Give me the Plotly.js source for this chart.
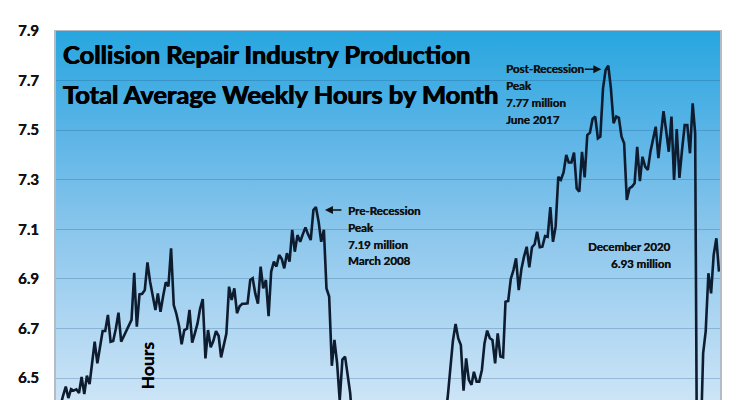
<!DOCTYPE html>
<html>
<head>
<meta charset="utf-8">
<script src="https://cdn.plot.ly/plotly-3.0.1.min.js"></script>
<style>
  html, body { margin: 0; padding: 0; background: #ffffff; overflow: hidden; }
  #chart { width: 740px; height: 402px; }
</style>
</head>
<body>
<div id="chart"></div>
<script>
// Total average weekly hours (millions) by month, Jan 2000 - Dec 2020
const hours2000 = [6.40, 6.39, 6.43, 6.466, 6.42, 6.456, 6.45, 6.455, 6.44, 6.505, 6.436, 6.51];
const hours2001 = [6.476, 6.57, 6.647, 6.56, 6.62, 6.69, 6.69, 6.755, 6.647, 6.65, 6.70, 6.764];
const hours2002 = [6.647, 6.67, 6.69, 6.71, 6.735, 6.925, 6.708, 6.838, 6.84, 6.855, 6.967, 6.89];
const hours2003 = [6.83, 6.775, 6.842, 6.768, 6.83, 6.887, 6.87, 7.024, 6.795, 6.76, 6.71, 6.637];
const hours2004 = [6.694, 6.70, 6.775, 6.643, 6.68, 6.72, 6.78, 6.819, 6.58, 6.694, 6.625, 6.65];
const hours2005 = [6.69, 6.67, 6.584, 6.64, 6.68, 6.869, 6.815, 6.862, 6.762, 6.79, 6.80, 6.80];
const hours2006 = [6.802, 6.896, 6.903, 6.84, 6.80, 6.95, 6.862, 6.896, 6.75, 6.93, 6.97, 6.95];
const hours2007 = [6.997, 6.98, 6.943, 7.004, 6.97, 7.098, 7.01, 7.077, 7.05, 7.08, 7.108, 7.08];
const hours2008 = [7.057, 7.178, 7.19, 7.131, 7.05, 7.098, 6.862, 6.829, 6.55, 6.654, 6.56, 6.41];
const hours2009 = [6.575, 6.587, 6.52, 6.44, 6.30, 6.25, 6.22, 6.28, 6.18, 6.20, 6.15, 6.22];
const hours2010 = [6.17, 6.10, 6.18, 6.12, 6.20, 6.15, 6.08, 6.16, 6.12, 6.05, 6.14, 6.10];
const hours2011 = [6.18, 6.12, 6.20, 6.15, 6.22, 6.18, 6.25, 6.20, 6.28, 6.24, 6.30, 6.26];
const hours2012 = [6.33, 6.28, 6.32, 6.35, 6.42, 6.55, 6.65, 6.719, 6.66, 6.634, 6.45, 6.58];
const hours2013 = [6.493, 6.473, 6.526, 6.486, 6.486, 6.533, 6.64, 6.692, 6.661, 6.654, 6.56, 6.681];
const hours2014 = [6.587, 6.584, 6.808, 6.811, 6.90, 6.936, 6.983, 6.855, 6.94, 6.99, 7.03, 6.947];
const hours2015 = [7.028, 7.04, 7.091, 7.028, 7.03, 7.073, 7.07, 7.19, 7.05, 7.11, 7.312, 7.30];
const hours2016 = [7.33, 7.40, 7.37, 7.37, 7.41, 7.265, 7.252, 7.413, 7.31, 7.48, 7.49, 7.545];
const hours2017 = [7.555, 7.467, 7.474, 7.669, 7.743, 7.76, 7.669, 7.528, 7.555, 7.55, 7.474, 7.447];
const hours2018 = [7.219, 7.266, 7.272, 7.286, 7.433, 7.295, 7.393, 7.353, 7.34, 7.413, 7.467, 7.514];
const hours2019 = [7.387, 7.48, 7.577, 7.497, 7.413, 7.555, 7.299, 7.505, 7.308, 7.42, 7.521, 7.521];
const hours2020 = [7.407, 7.608, 7.487, 5.5, 6.2, 6.6, 6.69, 6.923, 6.842, 6.997, 7.064, 6.93];

const years = [2000, 2001, 2002, 2003, 2004, 2005, 2006, 2007, 2008, 2009, 2010,
               2011, 2012, 2013, 2014, 2015, 2016, 2017, 2018, 2019, 2020];
const yearlySeries = [hours2000, hours2001, hours2002, hours2003, hours2004, hours2005,
  hours2006, hours2007, hours2008, hours2009, hours2010, hours2011, hours2012, hours2013,
  hours2014, hours2015, hours2016, hours2017, hours2018, hours2019, hours2020];

const titleLines = ['Collision Repair Industry Production', 'Total Average Weekly Hours by Month'];
const yTickVals = [6.5, 6.7, 6.9, 7.1, 7.3, 7.5, 7.7, 7.9];
const yTickText = ['6.5', '6.7', '6.9', '7.1', '7.3', '7.5', '7.7', '7.9'];
const axisLabel = 'Hours';
const preLines = ['Pre-Recession', 'Peak', '7.19 million', 'March 2008'];
const postLines = ['Post-Recession', 'Peak', '7.77 million', 'June 2017'];
const latestLines = ['December 2020', '6.93 million'];
const preDate = '2008-03-01', preValue = 7.19;
const postDate = '2017-06-01', postValue = 7.75;
const latestDate = '2020-12-01', latestValue = 6.93;

const months = [];
const values = [];
years.forEach((yr, k) => {
  yearlySeries[k].forEach((v, m) => {
    months.push(yr + '-' + String(m + 1).padStart(2, '0') + '-01');
    values.push(v);
  });
});

const FONT = 'Lato, "DejaVu Sans Condensed", sans-serif';
const HEAVY = '0.45px 0 0 #000000, -0.45px 0 0 #000000';
const SEMIHEAVY = '0.3px 0 0 #111111';

const gradSvg = '<svg xmlns="http://www.w3.org/2000/svg" width="10" height="100" viewBox="0 0 10 100" preserveAspectRatio="none">' +
  '<defs><linearGradient id="g" x1="0" y1="0" x2="0" y2="1">' +
  '<stop offset="0" stop-color="#27a6df"/>' +
  '<stop offset="0.27" stop-color="#5ab4e6"/>' +
  '<stop offset="0.54" stop-color="#8ac6ec"/>' +
  '<stop offset="0.80" stop-color="#b0d7f2"/>' +
  '<stop offset="1" stop-color="#cce4f6"/>' +
  '</linearGradient></defs><rect x="0" y="0" width="10" height="100" fill="url(#g)"/></svg>';
const gradUri = 'data:image/svg+xml;charset=utf-8,' + encodeURIComponent(gradSvg);

const trace = {
  x: months,
  y: values,
  type: 'scatter',
  mode: 'lines',
  line: {color: '#0e1c30', width: 2.6},
  hoverinfo: 'skip'
};

const noteFont = {family: FONT, size: 11.5, color: '#111111', weight: 'bold', shadow: SEMIHEAVY};
const LINE_GAP = 16.8;

const annotations = [];
// Title lines (paper coordinates, plot area spans y 31..400 px)
titleLines.forEach((t, k) => {
  annotations.push({
    text: t, xref: 'paper', yref: 'paper', x: 5 / 664, y: (400 - (54 + 39.5 * k)) / 369,
    xanchor: 'left', yanchor: 'middle', showarrow: false,
    font: {family: FONT, size: 25.5, color: '#000000', weight: 'bold', shadow: HEAVY}
  });
});
// Pre-recession note
preLines.forEach((t, k) => {
  annotations.push({text: t, x: preDate, y: preValue, xanchor: 'left', yanchor: 'middle',
    xshift: 30, yshift: -3.5 - LINE_GAP * k, showarrow: false, font: noteFont});
});
annotations.push({text: '', x: preDate, y: preValue, xshift: 9, yshift: -3,
  showarrow: true, ax: 18, ay: 0, arrowhead: 2, arrowsize: 1, arrowwidth: 1.6, arrowcolor: '#111111'});
// Post-recession note
postLines.forEach((t, k) => {
  annotations.push({text: t, x: postDate, y: postValue, xanchor: 'left', yanchor: 'middle',
    xshift: -104, yshift: -0.7 - LINE_GAP * k, showarrow: false, font: noteFont});
});
annotations.push({text: '', x: postDate, y: postValue, xshift: -7, yshift: -1,
  showarrow: true, ax: -18, ay: 0, arrowhead: 2, arrowsize: 1, arrowwidth: 1.6, arrowcolor: '#111111'});
// Latest value note
latestLines.forEach((t, k) => {
  annotations.push({text: t, x: latestDate, y: latestValue, xanchor: 'right', yanchor: 'middle',
    xshift: -46, yshift: 25 - LINE_GAP * k, showarrow: false, font: noteFont});
});
// Axis label
annotations.push({text: axisLabel, x: '2002-11-01', y: 6.553, textangle: -90,
  showarrow: false, font: {family: FONT, size: 17.5, color: '#000000', weight: 'bold', shadow: SEMIHEAVY}});

const layout = {
  width: 740,
  height: 402,
  margin: {l: 56, r: 20, t: 31, b: 2, pad: 0},
  paper_bgcolor: '#ffffff',
  plot_bgcolor: 'rgba(0,0,0,0)',
  showlegend: false,
  images: [{
    source: gradUri, xref: 'paper', yref: 'paper', x: 0, y: 1,
    sizex: 1, sizey: 1, xanchor: 'left', yanchor: 'top',
    sizing: 'stretch', layer: 'below'
  }],
  xaxis: {
    type: 'date',
    range: ['1999-12-10', '2020-12-13'],
    showgrid: false, zeroline: false, showticklabels: false, ticks: '',
    showline: true, mirror: true, linecolor: '#b3bcc4', linewidth: 1
  },
  yaxis: {
    range: [6.412, 7.9],
    tickvals: yTickVals, ticktext: yTickText,
    showgrid: true, gridcolor: 'rgba(35,85,135,0.28)', gridwidth: 1,
    zeroline: false,
    showline: true, mirror: true, linecolor: '#b3bcc4', linewidth: 2,
    ticks: 'outside', ticklen: 12, tickcolor: 'rgba(0,0,0,0)',
    tickfont: {family: FONT, size: 15, color: '#111111', weight: 'bold', shadow: SEMIHEAVY}
  },
  annotations: annotations
};

Plotly.newPlot('chart', [trace], layout, {displayModeBar: false, staticPlot: true});
</script>
</body>
</html>
